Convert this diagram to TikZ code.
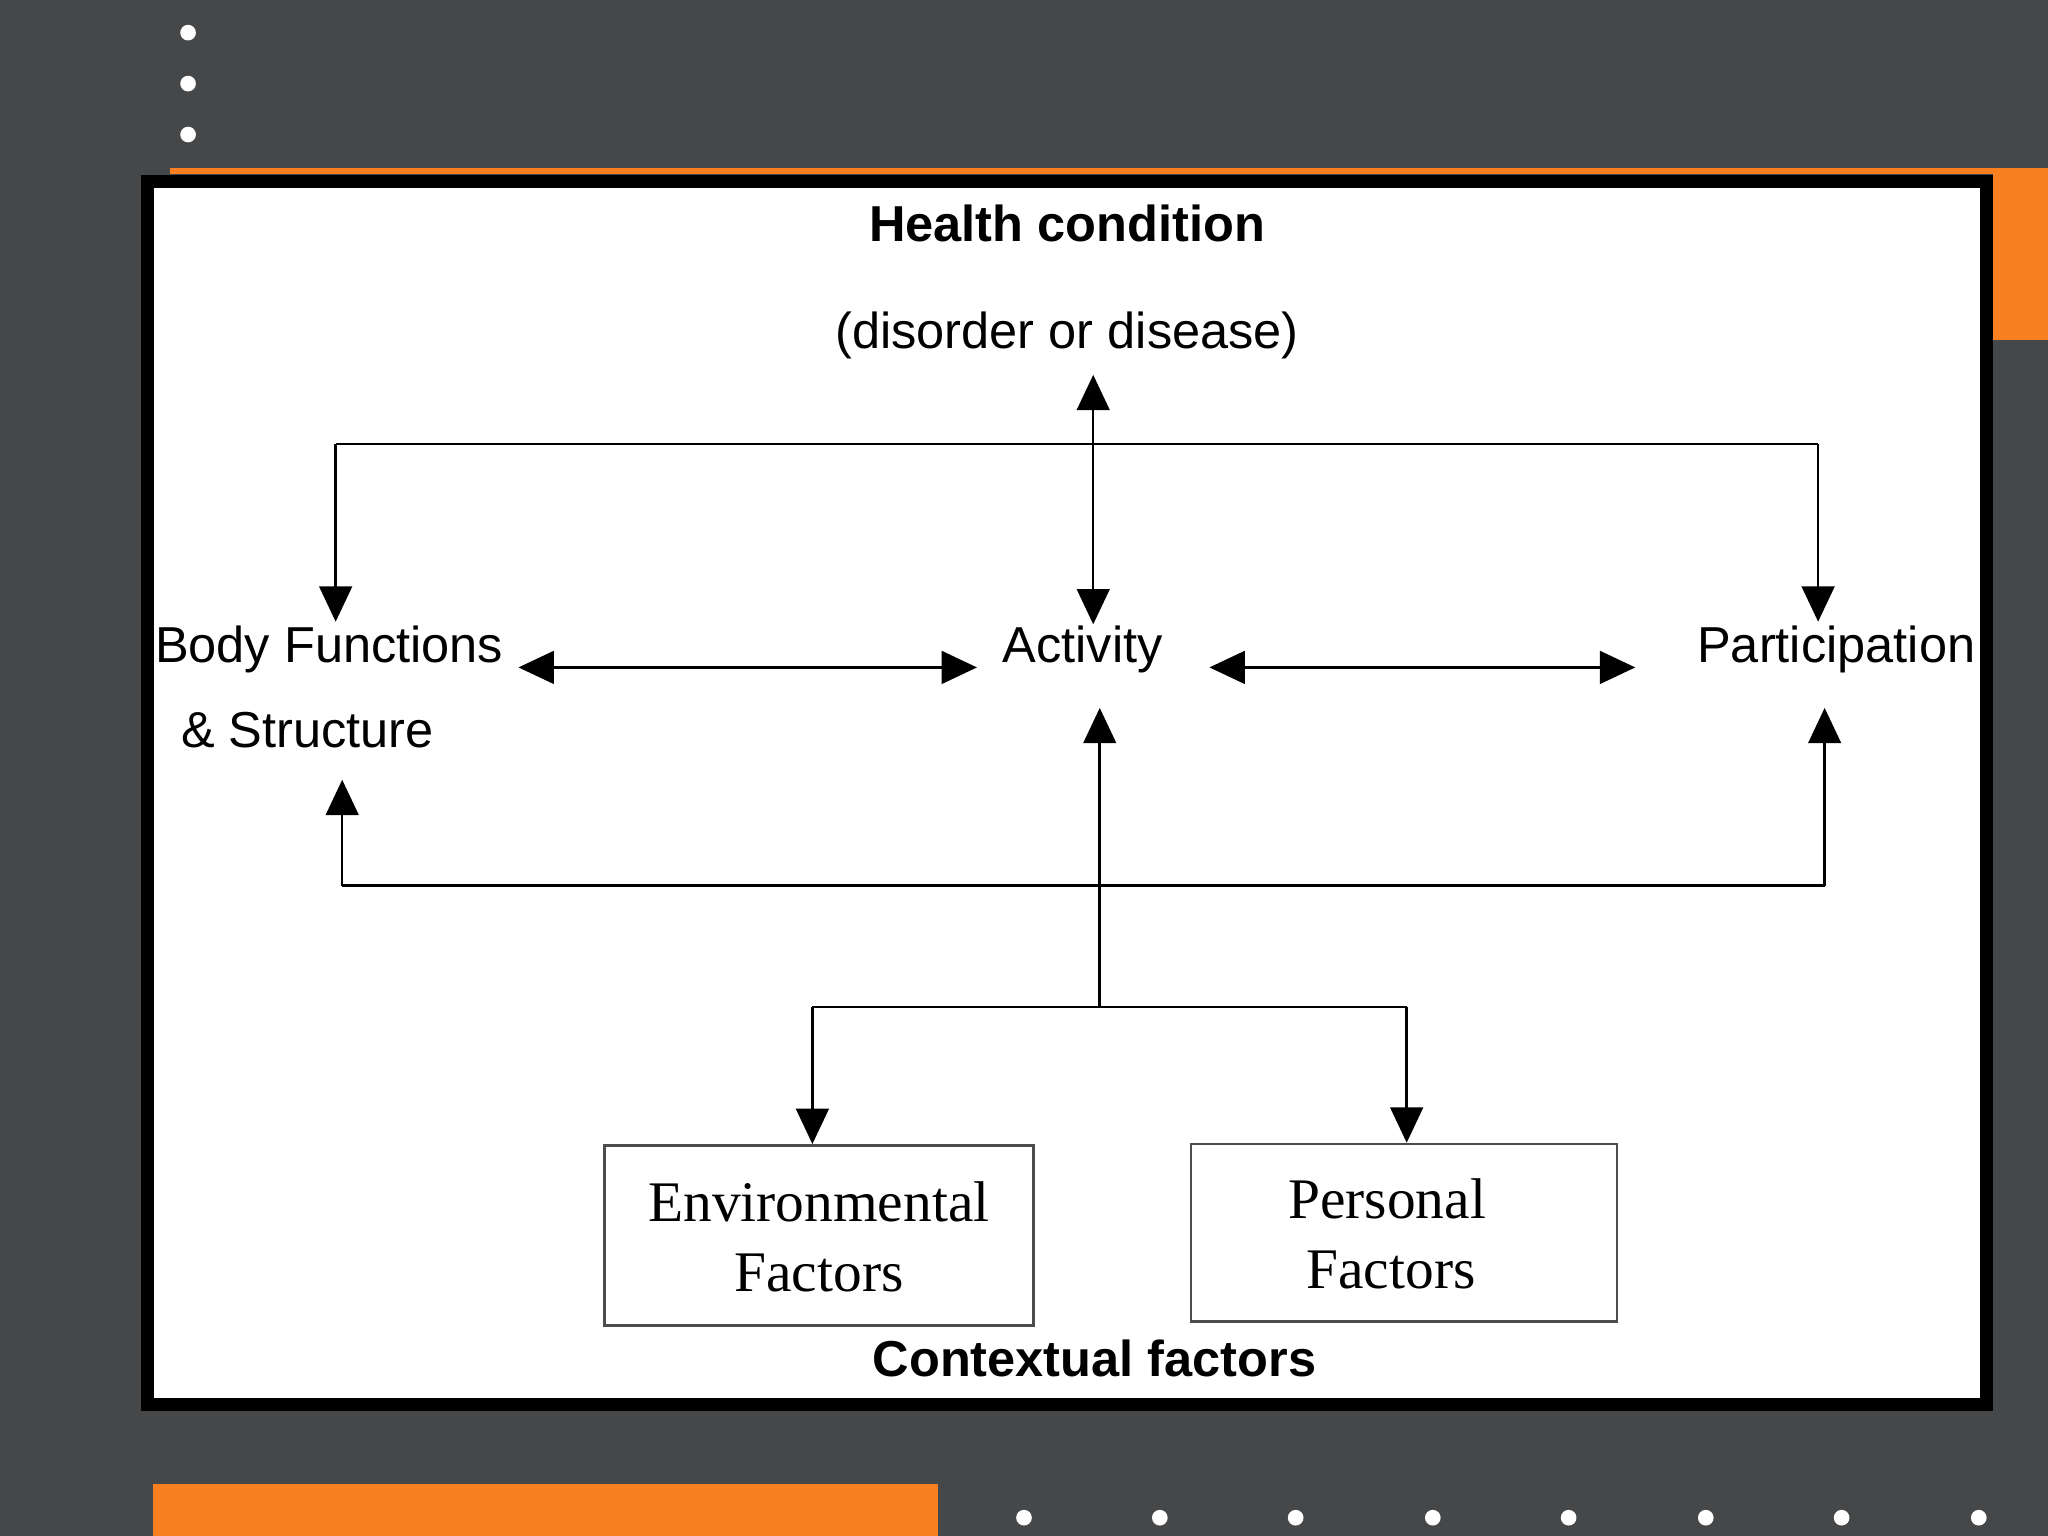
\documentclass[tikz,border=0pt]{standalone}
\usepackage{fontspec}
\setmainfont{Liberation Serif}
\setsansfont{Liberation Sans}
\usetikzlibrary{arrows.meta}
\definecolor{bg}{HTML}{464748}
\definecolor{org}{HTML}{FA7F20}
\tikzset{
  lbl/.style={font=\sffamily\fontsize{11}{13}\selectfont, inner sep=0pt},
  blbl/.style={font=\sffamily\bfseries\fontsize{11}{13}\selectfont, inner sep=0pt},
  fbox/.style={draw=black!70, line width=0.6pt, fill=white},
  ftxt/.style={font=\fontsize{12.5}{16}\selectfont, inner sep=0pt, align=center},
  conn/.style={line width=0.55pt},
  tip/.style={-{Triangle[length=0.27cm,width=0.25cm]}},
  dtip/.style={{Triangle[length=0.27cm,width=0.25cm]}-{Triangle[length=0.27cm,width=0.25cm]}},
  dot/.style={fill=white, draw=none}
}
\begin{document}
\begin{tikzpicture}[x=0.01cm,y=-0.01cm]
\fill[bg] (0,0) rectangle (1568,1176);
\useasboundingbox (0,0) rectangle (1568,1176);
\foreach \y in {25,64,103} \fill[dot] (144,\y) circle (6);
\foreach \x in {784,888,992,1097,1201,1306,1410,1515} \fill[dot] (\x,1162) circle (6);
\fill[org] (130,129) rectangle (1568,133);
\fill[org] (1526,131) rectangle (1568,260);
\fill[org] (117,1136) rectangle (718,1176);
\fill[black] (108,134) rectangle (1526,1080);
\fill[white] (118,144) rectangle (1516,1070);

\node[blbl] (hc) at (817,171) {Health condition};
\node[lbl] (dd) at (817,257) {(disorder or disease)};
\node[lbl,anchor=west] (bf1) at (118,497) {Body Functions};
\node[lbl,anchor=west] (bf2) at (138,559) {\& Structure};
\node[lbl] (act) at (829,497) {Activity};
\node[lbl,anchor=east] (par) at (1513,497) {Participation};
\node[fbox, minimum width=3.28cm, minimum height=1.38cm] (env) at (627,946) {};
\node[ftxt] at (627,920) {Environmental};
\node[ftxt] at (627,975) {Factors};
\node[fbox, minimum width=3.26cm, minimum height=1.36cm] (pers) at (1075,944) {};
\node[ftxt] at (1062,918) {Personal};
\node[ftxt] at (1065,972) {Factors};
\node[blbl] (ctx) at (838,1040) {Contextual factors};

\coordinate (t1) at (257,340); \coordinate (t2) at (1392,340);
\coordinate (b1) at (262,678); \coordinate (b2) at (1397,678);
\coordinate (c1) at (622,771); \coordinate (c2) at (1077,771);
\coordinate (cm) at (842,771);

\draw[conn,dtip] (837,287) -- (837,478);
\draw[conn] (t1) -- (t2);
\draw[conn,tip] (t1) -- (257,476);
\draw[conn,tip] (t2) -- (1392,476);
\draw[conn,dtip] (397,511) -- (748,511);
\draw[conn,dtip] (926,511) -- (1252,511);
\draw[conn,tip] (cm) -- (842,542);
\draw[conn] (b1) -- (b2);
\draw[conn,tip] (b1) -- (262,597);
\draw[conn,tip] (b2) -- (1397,542);
\draw[conn] (c1) -- (c2);
\draw[conn,tip] (c1) -- (env.north -| c1);
\draw[conn,tip] (c2) -- (pers.north -| c2);
\end{tikzpicture}
\end{document}
